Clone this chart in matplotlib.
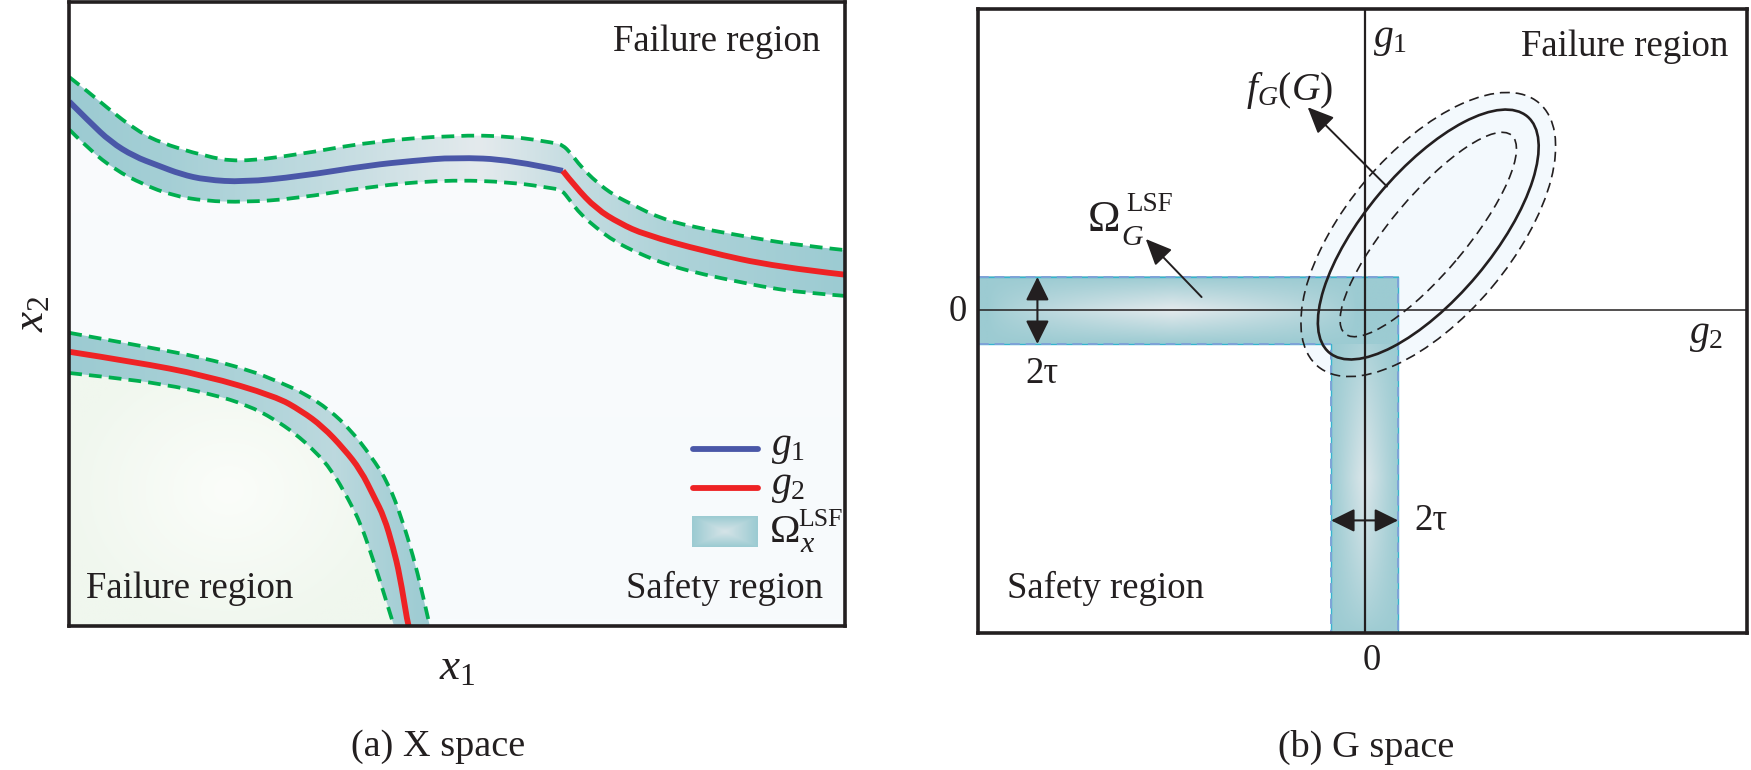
import numpy as np
import matplotlib
matplotlib.use("Agg")
import matplotlib.pyplot as plt
from matplotlib.colors import LinearSegmentedColormap
from matplotlib.patches import Ellipse, PathPatch
from matplotlib.path import Path

plt.rcParams['font.family'] = ['Liberation Serif', 'DejaVu Serif']
plt.rcParams['mathtext.fontset'] = 'custom'
plt.rcParams['mathtext.rm'] = 'Liberation Serif'
plt.rcParams['mathtext.it'] = 'Liberation Serif:italic'
plt.rcParams['mathtext.bf'] = 'Liberation Serif:bold'

# X space curves
g1_x = [62, 80, 99, 120, 141, 162, 184, 218, 268, 331, 370, 407, 458, 504]
g1_y = [91, 109, 127, 140, 148, 156, 161, 163, 158, 148, 144, 141, 143, 153]
g2_up_x = [504, 515, 534, 555, 577, 631, 695, 757]
g2_up_y = [153, 167, 187, 200, 210, 225, 239, 246]
g2_low_x = [62, 120, 183, 247, 270, 289, 308, 323, 335, 344, 352, 358, 365, 366]
g2_low_y = [315, 324, 336, 355, 368, 382, 402, 421, 445, 463, 490, 515, 558, 561]

top_upper_x = [62, 80, 99, 120, 141, 184, 213, 264, 331, 407, 458, 497, 504, 511, 520, 534, 550, 568, 590, 619, 669, 710, 757]
top_upper_y = [69, 83, 99, 115, 127, 140, 145, 139, 127, 121, 122, 128, 130, 137, 149, 163, 175, 184, 195, 203, 212, 219, 224]
top_lower_x = [62, 80, 103, 128, 154, 184, 219, 264, 331, 399, 458, 497, 503, 510, 520, 534, 550, 572, 600, 631, 660, 690, 720, 757]
top_lower_y = [116, 134, 152, 165, 175, 180, 181, 178, 167, 161, 163, 169, 170, 179, 192, 204, 216, 227, 238, 246, 252, 258, 262, 265]
low_upper_x = [62, 100, 133, 180, 222, 250, 272, 295, 314, 332, 348, 360, 370, 378, 385]
low_upper_y = [298, 305, 311, 320, 331, 342, 352, 367, 385, 408, 433, 465, 498, 530, 561]
low_lower_x = [62, 100, 146, 190, 222, 245, 264, 282, 297, 312, 323, 332, 340, 351, 353]
low_lower_y = [334, 338, 344, 353, 363, 375, 388, 404, 421, 447, 469, 495, 519, 555, 561]

legend_line_x = [621, 679]
legend_g1_y = [402, 402]
legend_g2_y = [437, 437]

# G space, origin where the two axes cross
tau = 30
ellipse_center = (57, 68)
solid_ellipse = (138, 57)
inner_ellipse = (116, 34)
outer_ellipse = (154, 74)
ellipse_angle = 50

teal = '#9ccbd2'
blue = '#4a57a8'
red = '#ee2224'
green = '#00ae4f'
ink = '#231f20'

fig = plt.figure(figsize=(17.51, 7.70), dpi=100)
W, H = 1568.0, 689.5


def panel(left, right, top, bottom):
    return fig.add_axes([left / W, 1 - bottom / H, (right - left) / W, (bottom - top) / H])


def smooth(x, y):
    # quadratic bezier through the read points, matplotlib does the curve
    pts = np.column_stack([x, y], ).astype(float)
    verts = [pts[0]]
    codes = [Path.MOVETO]
    for i in range(1, len(pts) - 1):
        end = pts[i + 1] if i == len(pts) - 2 else (pts[i] + pts[i + 1]) / 2
        verts += [pts[i], end]
        codes += [Path.CURVE3, Path.CURVE3]
    return Path(verts, codes)


def flat(x, y):
    return smooth(x, y).to_polygons(closed_only=False)[0]


def draw_curve(ax, x, y, **kw):
    ax.add_patch(PathPatch(smooth(x, y), fc='none', **kw))


def fill_image(ax, img, extent, clip, cmap, zorder=1):
    im = ax.imshow(img, extent=extent, cmap=cmap, vmin=0, vmax=1, aspect='auto',
                   interpolation='bilinear', zorder=zorder, origin='lower')
    patch = PathPatch(clip, transform=ax.transData, fc='none', ec='none')
    ax.add_patch(patch)
    im.set_clip_path(patch)


def between(xa, ya, xb, yb):
    return Path(np.vstack([flat(xa, ya), flat(xb, yb)[::-1]]))


# (a) X space
ax = panel(62, 757, 2, 561)

# safety region between the two bands
safe_cmap = LinearSegmentedColormap.from_list('safe', ['#f7fbfd', '#fafafc'])
yy = np.linspace(0, 1, 64).reshape(-1, 1)
safe_poly = np.vstack([flat(top_lower_x, top_lower_y),
                       [[757, 561]],
                       flat(low_upper_x, low_upper_y)[::-1]])
fill_image(ax, yy, (62, 757, 561, 2), Path(safe_poly), safe_cmap)

# failure region bottom left
green_cmap = LinearSegmentedColormap.from_list('fail', ['#f0f7ee', '#fbfdfa'])
gx, gy = np.meshgrid(np.linspace(62, 360, 150), np.linspace(290, 561, 150))
glow = np.clip(1 - np.hypot((gx - 205) / 150, (gy - 440) / 130), 0, 1)
fail_poly = np.vstack([flat(low_lower_x, low_lower_y), [[62, 561]]])
fill_image(ax, glow, (62, 360, 290, 561), Path(fail_poly), green_cmap)

band_cmap = LinearSegmentedColormap.from_list('band', [teal, '#e4eaed'])
# lightness of the band along x
xs = np.array([62, 150, 300, 430, 505, 600, 757])
ls = np.array([0, 0.12, 0.55, 1, 0.6, 0.25, 0])
strip = np.interp(np.linspace(62, 757, 300), xs, ls).reshape(1, -1)
fill_image(ax, strip, (62, 757, 0, 300), between(top_upper_x, top_upper_y, top_lower_x, top_lower_y), band_cmap, 2)
xs2 = np.array([62, 200, 300, 345, 385])
ls2 = np.array([0, 0.2, 0.45, 0.2, 0])
strip2 = np.interp(np.linspace(62, 385, 200), xs2, ls2).reshape(1, -1)
fill_image(ax, strip2, (62, 385, 280, 561), between(low_upper_x, low_upper_y, low_lower_x, low_lower_y), band_cmap, 2)

for xc, yc in [(top_upper_x, top_upper_y), (top_lower_x, top_lower_y),
               (low_upper_x, low_upper_y), (low_lower_x, low_lower_y)]:
    draw_curve(ax, xc, yc, ec=green, lw=2.7, ls=(0, (3.4, 1.9)), zorder=3)

draw_curve(ax, g1_x, g1_y, ec=blue, lw=4.2, capstyle='butt', zorder=4)
draw_curve(ax, g2_up_x, g2_up_y, ec=red, lw=4.2, capstyle='butt', zorder=4)
draw_curve(ax, g2_low_x, g2_low_y, ec=red, lw=4.2, capstyle='butt', zorder=4)

ax.plot(legend_line_x, legend_g1_y, color=blue, lw=4.2, solid_capstyle='round', zorder=4)
ax.plot(legend_line_x, legend_g2_y, color=red, lw=4.2, solid_capstyle='round', zorder=4)
sx, sy = np.meshgrid(np.linspace(-1, 1, 60), np.linspace(-1, 1, 30))
swatch = (1 - np.maximum(np.abs(sx), np.abs(sy))) * 0.8
ax.imshow(swatch, extent=(620, 679, 490, 463), cmap=band_cmap, vmin=0, vmax=1, aspect='auto', zorder=3)
ax.set_xlim(62, 757)
ax.set_ylim(561, 2)
ax.set_xticks([])
ax.set_yticks([])

for sp in ax.spines.values():
    sp.set_linewidth(2.6)
    sp.set_color(ink)
    sp.set_zorder(6)

ts = 26.5
tx = dict(color=ink, ha='center', va='center', zorder=7)
ax.text(642, 37, 'Failure region', fontsize=ts, **tx)
ax.text(170, 527, 'Failure region', fontsize=ts, **tx)
ax.text(649, 527, 'Safety region', fontsize=ts, **tx)
ax.text(706, 401, r'$g_1$', fontsize=ts + 2, **tx)
ax.text(706, 436, r'$g_2$', fontsize=ts + 2, **tx)
ax.text(703, 477, 'Ω', fontsize=ts + 3, **tx)
ax.text(735, 466, 'LSF', fontsize=ts - 8, **tx)
ax.text(723, 488, r'$x$', fontsize=ts - 5, **tx)
ax.text(409, 598, r'$x_1$', fontsize=ts + 6, clip_on=False, **tx)
ax.text(29, 281, r'$x_2$', fontsize=ts + 6, rotation=90, clip_on=False, **tx)
ax.text(392, 669, '(a) X space', fontsize=ts + 1, clip_on=False, **tx)

# (b) G space
bx = panel(876, 1564, 8, 567)

pale = Ellipse(ellipse_center, 2 * outer_ellipse[0], 2 * outer_ellipse[1], angle=ellipse_angle,
               fc='#f3f9fd', ec='none', zorder=1)
bx.add_patch(pale)

# vertical band, then horizontal one on top of it
vx, vy = np.meshgrid(np.linspace(-1, 1, 60), np.linspace(-289, tau, 300))
vert = (1 - np.abs(vx)) * np.clip(1 - np.abs(vy + 150) / 140, 0, 1) ** 0.7 * 0.9
bx.imshow(vert, extent=(-tau, tau, -289, tau), origin='lower', cmap=band_cmap, vmin=0, vmax=1,
          aspect='auto', zorder=2, interpolation='bilinear')
hx, hy = np.meshgrid(np.linspace(-345, tau, 400), np.linspace(-1, 1, 60))
horiz = (1 - np.abs(hy)) * np.clip(1 - np.abs(hx + 172) / 165, 0, 1) ** 0.7
bx.imshow(horiz, extent=(-345, tau, -tau, tau), origin='lower', cmap=band_cmap, vmin=0, vmax=1,
          aspect='auto', zorder=2, interpolation='bilinear')
bx.set_xlim(-346, 342)
bx.set_ylim(-289, 270)
bx.set_xticks([])
bx.set_yticks([])

edge_x = [-345, tau, tau]
edge_y = [tau, tau, -289]
edge2_x = [-345, -tau, -tau]
edge2_y = [-tau, -tau, -289]
for ex, ey in [(edge_x, edge_y), (edge2_x, edge2_y)]:
    bx.plot(ex, ey, color='#35b4cf', lw=1.0, zorder=3)
    bx.plot(ex, ey, color='#7fa3d8', lw=1.4, dashes=(5, 3), zorder=3)

for wh, style, lw in [(solid_ellipse, '-', 1.9), (inner_ellipse, (0, (6, 3.5)), 1.2), (outer_ellipse, (0, (6, 3.5)), 1.2)]:
    bx.add_patch(Ellipse(ellipse_center, 2 * wh[0], 2 * wh[1], angle=ellipse_angle,
                         fc='none', ec=ink, lw=lw, ls=style, zorder=4))

bx.axvline(0, color=ink, lw=1.6, zorder=5)
bx.axhline(0, color=ink, lw=1.1, zorder=5)

head = dict(arrowstyle='-|>,head_length=0.95,head_width=0.42', color=ink, lw=1.4,
            shrinkA=0, shrinkB=0, mutation_scale=17)
bx.annotate('', xy=(-51, 182), xytext=(20, 111), arrowprops=head, zorder=6)
bx.annotate('', xy=(-196, 64), xytext=(-146, 12), arrowprops=head, zorder=6)
both = dict(arrowstyle='<|-|>,head_length=0.85,head_width=0.42', color=ink, lw=1.5,
            shrinkA=0, shrinkB=0, mutation_scale=17)
bx.annotate('', xy=(-293, tau), xytext=(-293, -tau), arrowprops=both, zorder=6)
bx.annotate('', xy=(-tau, -188), xytext=(tau, -188), arrowprops=both, zorder=6)

for sp in bx.spines.values():
    sp.set_linewidth(2.6)
    sp.set_color(ink)
    sp.set_zorder(6)

bx.text(233, 236, 'Failure region', fontsize=ts, **tx)
bx.text(-232, -249, 'Safety region', fontsize=ts, **tx)
bx.text(23, 243, r'$g_1$', fontsize=ts + 2, **tx)
bx.text(306, -22, r'$g_2$', fontsize=ts + 2, **tx)
bx.text(-67, 197, r'$f_G(G)$', fontsize=ts + 2, **tx)
bx.text(-233, 81, 'Ω', fontsize=ts + 5, **tx)
bx.text(-193, 95, 'LSF', fontsize=ts - 7, **tx)
bx.text(-208, 65, r'$G$', fontsize=ts - 5, **tx)
bx.text(-289, -57, '2τ', fontsize=ts, **tx)
bx.text(59, -188, '2τ', fontsize=ts, **tx)
bx.text(-364, -1, '0', fontsize=ts, clip_on=False, **tx)
bx.text(6, -314, '0', fontsize=ts, clip_on=False, **tx)
bx.text(1, -391, '(b) G space', fontsize=ts + 1, clip_on=False, **tx)

fig.savefig('out.png', dpi=100)
